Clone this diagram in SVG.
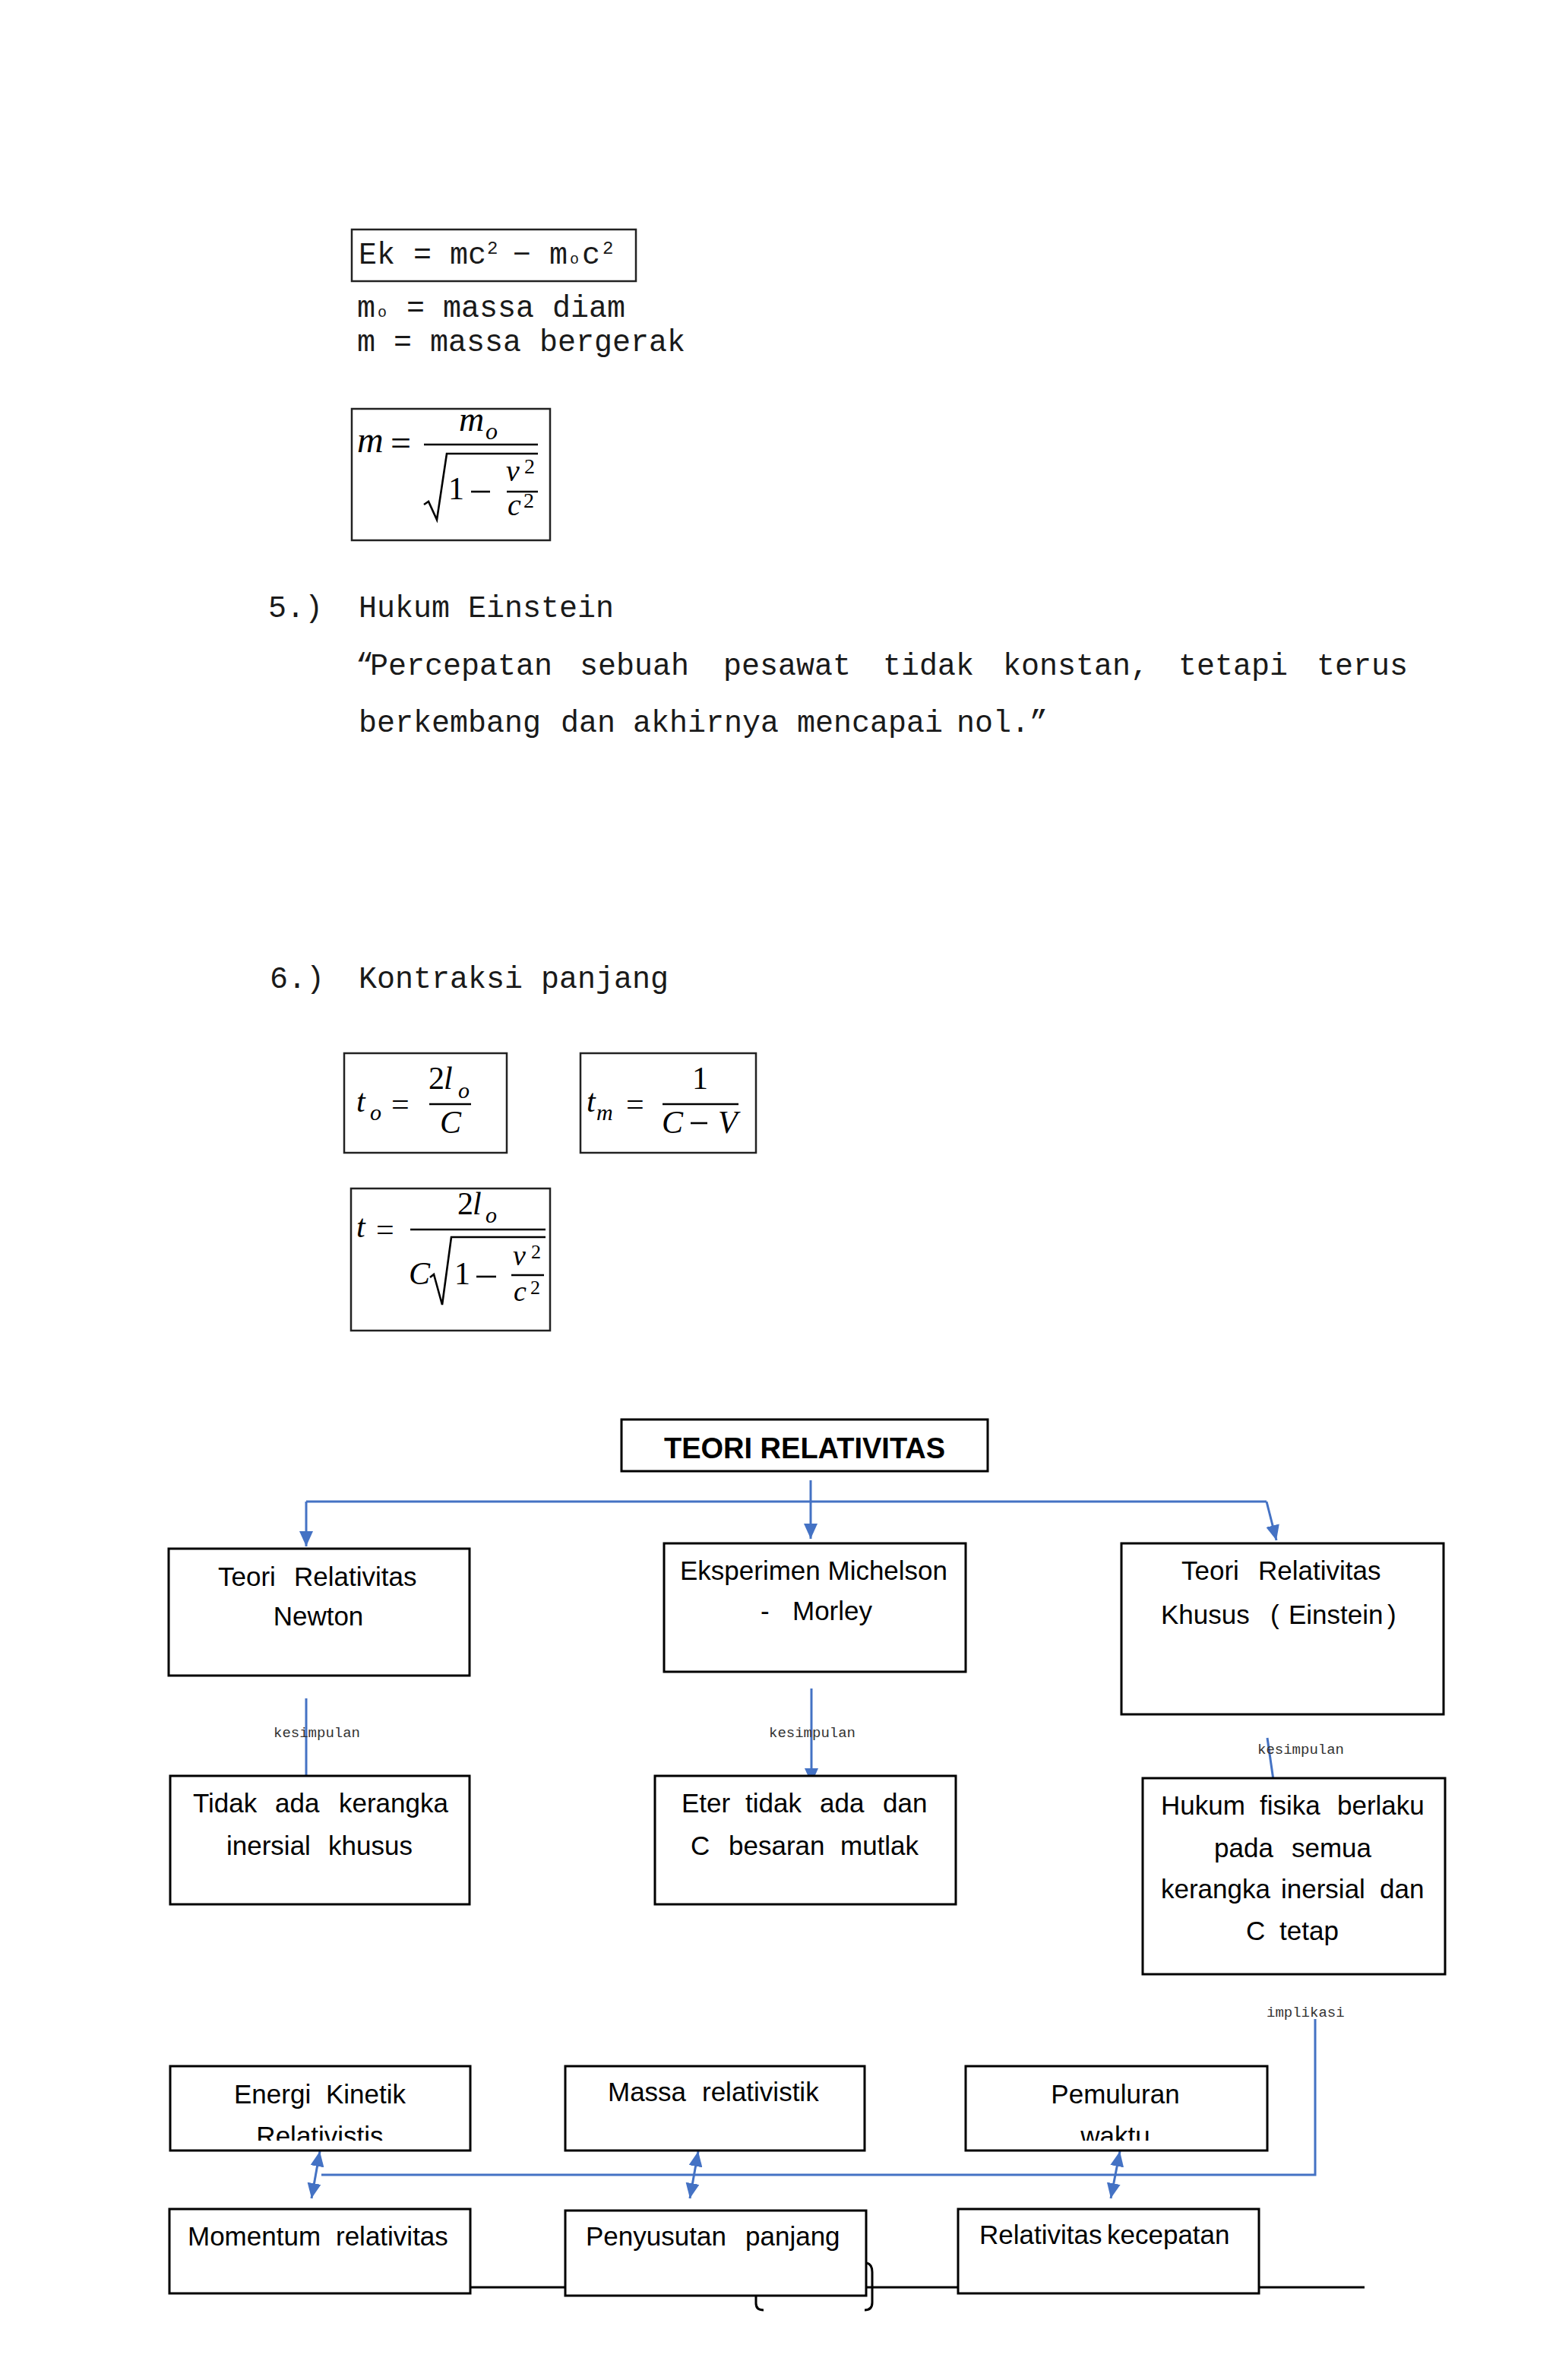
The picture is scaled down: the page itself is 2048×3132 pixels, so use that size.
<svg xmlns="http://www.w3.org/2000/svg" width="2048" height="3132" viewBox="0 0 2048 3132">
<style>
.mono{font-family:"Liberation Mono","DejaVu Sans Mono",monospace;font-size:40px;fill:#1a1a1a}
.lbl{font-family:"Liberation Mono","DejaVu Sans Mono",monospace;font-size:19px;fill:#333}
.sans{font-family:"Liberation Sans",Arial,sans-serif;font-size:35px;fill:#000}
.bold{font-family:"Liberation Sans",Arial,sans-serif;font-size:38px;font-weight:bold;fill:#000}
.mi{font-family:"Liberation Serif","Times New Roman",serif;font-style:italic;fill:#000}
.mr{font-family:"Liberation Serif","Times New Roman",serif;fill:#000}
.box{fill:#fff;stroke:#000;stroke-width:3}
.fbox{fill:none;stroke:#222;stroke-width:2.5}
.bar{stroke:#000;stroke-width:2.6;fill:none}
.conn{stroke:#4472C4;stroke-width:3;fill:none}
.blk{stroke:#000;stroke-width:3;fill:none}
</style>
<defs>
<marker id="ah" markerUnits="userSpaceOnUse" markerWidth="20" markerHeight="18" refX="20" refY="9" orient="auto-start-reverse" viewBox="0 0 20 18">
<path d="M0,0 L20,9 L0,18 z" fill="#4472C4"/>
</marker>
<clipPath id="clipE"><rect x="224" y="2719" width="395" height="98"/></clipPath>
<clipPath id="clipP"><rect x="1271" y="2719" width="397" height="98"/></clipPath>
</defs>
<rect width="2048" height="3132" fill="#fff"/>

<!-- Formula Ek -->
<g id="f-ek">
<rect class="fbox" x="463" y="302" width="374" height="68"/>
<text class="mono" x="472" y="347">Ek = mc</text>
<text class="mono" x="641" y="334" style="font-size:24px">2</text>
<text class="mono" x="675" y="347">−</text>
<text class="mono" x="723" y="347">m</text>
<text class="mono" x="750" y="347" style="font-size:20px">o</text>
<text class="mono" x="766" y="347">c</text>
<text class="mono" x="793" y="334" style="font-size:24px">2</text>
</g>
<g id="t-defs">
<text class="mono" x="470" y="417">m</text>
<text class="mono" x="497" y="417" style="font-size:20px">o</text>
<text class="mono" x="535" y="417">= massa diam</text>
<text class="mono" x="470" y="462">m = massa bergerak</text>
</g>

<!-- Formula m -->
<g id="f-m">
<rect class="fbox" x="463" y="538" width="261" height="173"/>
<text class="mi" x="470" y="595" font-size="48">m</text>
<text class="mr" x="514" y="599" font-size="48">=</text>
<text class="mi" x="604" y="567" font-size="46">m</text>
<text class="mi" x="639" y="578" font-size="32">o</text>
<line class="bar" x1="558" y1="585" x2="708" y2="585"/>
<path class="bar" d="M558,664 L564,660 L575,684 L588,597 L708,597"/>
<text class="mr" x="590" y="657" font-size="42">1</text>
<line class="bar" x1="620" y1="647" x2="645" y2="647"/>
<text class="mi" x="666" y="633" font-size="40">v</text>
<text class="mr" x="690" y="623" font-size="28">2</text>
<line class="bar" x1="667" y1="647" x2="708" y2="647"/>
<text class="mi" x="668" y="678" font-size="40">c</text>
<text class="mr" x="689" y="668" font-size="28">2</text>
</g>

<!-- Section 5 -->
<g id="s5">
<text class="mono" x="353" y="812">5.)</text>
<text class="mono" x="472" y="812">Hukum Einstein</text>
<text class="mono" y="888"><tspan x="468">“</tspan><tspan x="487">Percepatan</tspan><tspan x="763">sebuah</tspan><tspan x="952">pesawat</tspan><tspan x="1162">tidak</tspan><tspan x="1320">konstan,</tspan><tspan x="1551">tetapi</tspan><tspan x="1733">terus</tspan></text>
<text class="mono" y="963"><tspan x="472">berkembang</tspan><tspan x="738">dan</tspan><tspan x="833">akhirnya</tspan><tspan x="1049">mencapai</tspan><tspan x="1259">nol.”</tspan></text>
</g>

<!-- Section 6 -->
<g id="s6">
<text class="mono" x="355" y="1300">6.)</text>
<text class="mono" x="472" y="1300">Kontraksi panjang</text>
</g>

<!-- Formula t_o -->
<g id="f-to">
<rect class="fbox" x="453" y="1386" width="214" height="131"/>
<text class="mi" x="469" y="1463" font-size="42">t</text>
<text class="mi" x="487" y="1474" font-size="30">o</text>
<text class="mr" x="515" y="1467" font-size="42">=</text>
<text class="mr" x="564" y="1433" font-size="42">2</text>
<text class="mi" x="584" y="1433" font-size="42">l</text>
<text class="mi" x="603" y="1445" font-size="30">o</text>
<line class="bar" x1="565" y1="1453" x2="620" y2="1453"/>
<text class="mi" x="579" y="1491" font-size="42">C</text>
</g>

<!-- Formula t_m -->
<g id="f-tm">
<rect class="fbox" x="764" y="1386" width="231" height="131"/>
<text class="mi" x="772" y="1463" font-size="42">t</text>
<text class="mi" x="785" y="1474" font-size="30">m</text>
<text class="mr" x="824" y="1467" font-size="42">=</text>
<text class="mr" x="911" y="1433" font-size="42">1</text>
<line class="bar" x1="872" y1="1453" x2="972" y2="1453"/>
<text class="mi" x="871" y="1491" font-size="42">C</text>
<line class="bar" x1="909" y1="1478" x2="931" y2="1478"/>
<text class="mi" x="945" y="1491" font-size="42">V</text>
</g>

<!-- Formula t -->
<g id="f-t">
<rect class="fbox" x="462" y="1564" width="262" height="187"/>
<text class="mi" x="469" y="1628" font-size="42">t</text>
<text class="mr" x="495" y="1632" font-size="42">=</text>
<text class="mr" x="602" y="1598" font-size="42">2</text>
<text class="mi" x="622" y="1598" font-size="42">l</text>
<text class="mi" x="639" y="1609" font-size="30">o</text>
<line class="bar" x1="540" y1="1618" x2="718" y2="1618"/>
<text class="mi" x="538" y="1690" font-size="42">C</text>
<path class="bar" d="M566,1681 L571,1677 L582,1717 L594,1628 L718,1628"/>
<text class="mr" x="598" y="1690" font-size="42">1</text>
<line class="bar" x1="627" y1="1680" x2="653" y2="1680"/>
<text class="mi" x="675" y="1665" font-size="38">v</text>
<text class="mr" x="699" y="1656" font-size="26">2</text>
<line class="bar" x1="673" y1="1678" x2="716" y2="1678"/>
<text class="mi" x="676" y="1712" font-size="38">c</text>
<text class="mr" x="698" y="1703" font-size="26">2</text>
</g>

<!-- Connectors -->
<g id="connectors">
<line class="conn" x1="1067" y1="1948" x2="1067" y2="2025" marker-end="url(#ah)"/>
<line class="conn" x1="403" y1="1976" x2="1667" y2="1976"/>
<line class="conn" x1="403" y1="1976" x2="403" y2="2035" marker-end="url(#ah)"/>
<line class="conn" x1="1667" y1="1976" x2="1680" y2="2027" marker-end="url(#ah)"/>
<line class="conn" x1="403" y1="2235" x2="403" y2="2360" marker-end="url(#ah)"/>
<line class="conn" x1="1068" y1="2222" x2="1068" y2="2347" marker-end="url(#ah)"/>
<line class="conn" x1="1668" y1="2287" x2="1679" y2="2363" marker-end="url(#ah)"/>
<path class="conn" d="M1731,2657 V2862 H423"/>
<line class="conn" x1="421" y1="2831" x2="410" y2="2893" marker-start="url(#ah)" marker-end="url(#ah)"/>
<line class="conn" x1="919" y1="2831" x2="908" y2="2893" marker-start="url(#ah)" marker-end="url(#ah)"/>
<line class="conn" x1="1474" y1="2831" x2="1462" y2="2893" marker-start="url(#ah)" marker-end="url(#ah)"/>
<line class="blk" x1="619" y1="3010" x2="1796" y2="3010"/>
<path class="blk" d="M1141,2978 Q1148,2980 1148,2990 V3030 Q1148,3040 1138,3040"/>
<path class="blk" d="M995,3020 V3031 Q995,3040 1005,3040"/>
<text class="lbl" x="360" y="2286">kesimpulan</text>
<text class="lbl" x="1012" y="2286">kesimpulan</text>
<text class="lbl" x="1655" y="2308">kesimpulan</text>
<text class="lbl" x="1667" y="2654">implikasi</text>
</g>

<!-- Nodes -->
<g id="n-root">
<rect class="box" x="818" y="1868" width="482" height="68"/>
<text class="bold" x="1059" y="1919" text-anchor="middle">TEORI RELATIVITAS</text>
</g>
<g id="n-newton">
<rect class="box" x="222" y="2038" width="396" height="167"/>
<text class="sans" y="2087"><tspan x="287">Teori</tspan><tspan x="387">Relativitas</tspan></text>
<text class="sans" x="419" y="2139" text-anchor="middle">Newton</text>
</g>
<g id="n-michelson">
<rect class="box" x="874" y="2031" width="397" height="169"/>
<text class="sans" x="1071" y="2079" text-anchor="middle">Eksperimen Michelson</text>
<text class="sans" y="2132"><tspan x="1001">-</tspan><tspan x="1043">Morley</tspan></text>
</g>
<g id="n-einstein">
<rect class="box" x="1476" y="2031" width="424" height="225"/>
<text class="sans" y="2079"><tspan x="1555">Teori</tspan><tspan x="1656">Relativitas</tspan></text>
<text class="sans" y="2137"><tspan x="1528">Khusus</tspan><tspan x="1672">(</tspan><tspan x="1696">Einstein</tspan><tspan x="1826">)</tspan></text>
</g>
<g id="n-tidak">
<rect class="box" x="224" y="2337" width="394" height="169"/>
<text class="sans" y="2385"><tspan x="254">Tidak</tspan><tspan x="362">ada</tspan><tspan x="446">kerangka</tspan></text>
<text class="sans" y="2441"><tspan x="298">inersial</tspan><tspan x="432">khusus</tspan></text>
</g>
<g id="n-eter">
<rect class="box" x="862" y="2337" width="396" height="169"/>
<text class="sans" y="2385"><tspan x="897">Eter</tspan><tspan x="981">tidak</tspan><tspan x="1079">ada</tspan><tspan x="1162">dan</tspan></text>
<text class="sans" y="2441"><tspan x="909">C</tspan><tspan x="959">besaran</tspan><tspan x="1106">mutlak</tspan></text>
</g>
<g id="n-hukum">
<rect class="box" x="1504" y="2340" width="398" height="258"/>
<text class="sans" y="2388"><tspan x="1528">Hukum</tspan><tspan x="1658">fisika</tspan><tspan x="1760">berlaku</tspan></text>
<text class="sans" y="2444"><tspan x="1598">pada</tspan><tspan x="1700">semua</tspan></text>
<text class="sans" y="2498"><tspan x="1528">kerangka</tspan><tspan x="1686">inersial</tspan><tspan x="1816">dan</tspan></text>
<text class="sans" y="2553"><tspan x="1640">C</tspan><tspan x="1684">tetap</tspan></text>
</g>
<g id="n-energi">
<rect class="box" x="224" y="2719" width="395" height="111"/>
<text class="sans" y="2768"><tspan x="308">Energi</tspan><tspan x="429">Kinetik</tspan></text>
<text class="sans" x="421" y="2823" text-anchor="middle" clip-path="url(#clipE)">Relativistis</text>
</g>
<g id="n-massa">
<rect class="box" x="744" y="2719" width="394" height="111"/>
<text class="sans" y="2765"><tspan x="800">Massa</tspan><tspan x="924">relativistik</tspan></text>
</g>
<g id="n-pemuluran">
<rect class="box" x="1271" y="2719" width="397" height="111"/>
<text class="sans" x="1468" y="2768" text-anchor="middle">Pemuluran</text>
<text class="sans" x="1468" y="2823" text-anchor="middle" clip-path="url(#clipP)">waktu</text>
</g>
<g id="n-momentum">
<rect class="box" x="223" y="2907" width="396" height="111"/>
<text class="sans" y="2955"><tspan x="247">Momentum</tspan><tspan x="442">relativitas</tspan></text>
</g>
<g id="n-penyusutan">
<rect class="box" x="744" y="2909" width="396" height="112"/>
<text class="sans" y="2955"><tspan x="771">Penyusutan</tspan><tspan x="981">panjang</tspan></text>
</g>
<g id="n-relkec">
<rect class="box" x="1261" y="2907" width="396" height="111"/>
<text class="sans" y="2953"><tspan x="1289">Relativitas</tspan><tspan x="1457">kecepatan</tspan></text>
</g>
</svg>
